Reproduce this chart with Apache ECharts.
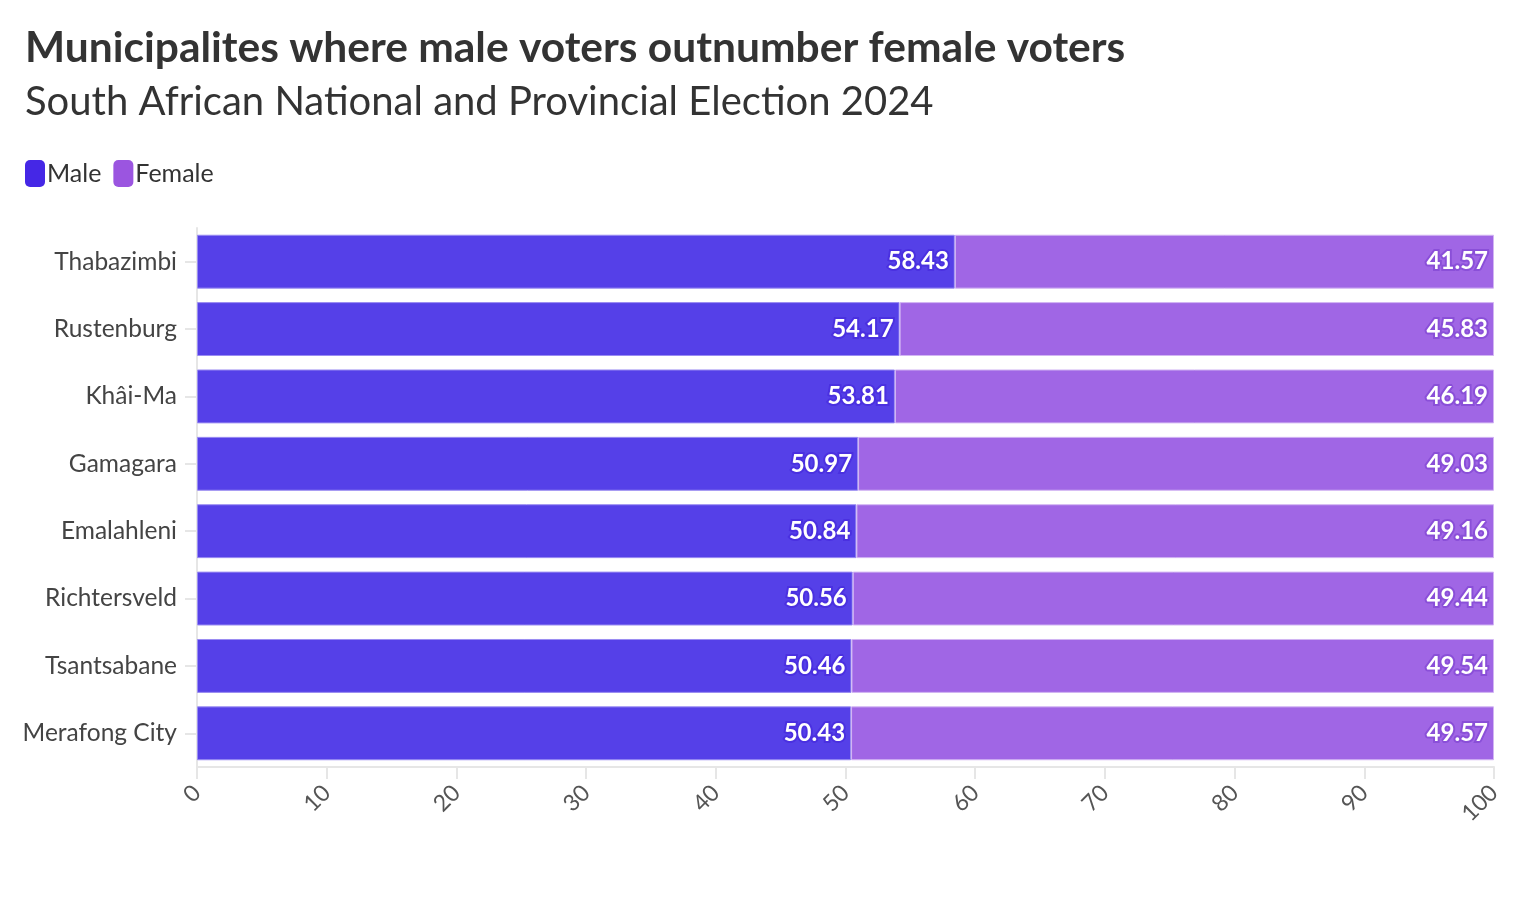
<!DOCTYPE html>
<html><head><meta charset="utf-8">
<script src="https://cdn.jsdelivr.net/npm/echarts@6/dist/echarts.min.js"></script>
<style>html,body{margin:0;padding:0;background:#fff}#c{width:1536px;height:924px}</style>
</head><body><div id="c"></div>
<script>
const categories = ['Thabazimbi','Rustenburg','Khâi-Ma','Gamagara','Emalahleni','Richtersveld','Tsantsabane','Merafong City'];
const maleValues = [58.43,54.17,53.81,50.97,50.84,50.56,50.46,50.43];
const femaleValues = [41.57,45.83,46.19,49.03,49.16,49.44,49.54,49.57];
const xTicks = [0,10,20,30,40,50,60,70,80,90,100];

const FONT = 'Lato, "Open Sans", sans-serif';
const chart = echarts.init(document.getElementById('c'));
function lbl(color){
  return {show:true, position:'insideRight', distance:6, color:'#fff', fontFamily:FONT, fontWeight:'bold', fontSize:24,
    textBorderColor:color, textBorderWidth:4, formatter:p=>p.value.toFixed(2)};
}
chart.setOption({
  animation:false,
  title:[
    {text:'Municipalites where male voters outnumber female voters', left:20, top:22, textStyle:{fontFamily:FONT, fontWeight:'bold', fontSize:42.5, color:'#333'}},
    {text:'South African National and Provincial Election 2024', left:20, top:77, textStyle:{fontFamily:FONT, fontWeight:'normal', fontSize:40, color:'#333'}}
  ],
  legend:{left:20, top:155, itemWidth:20, itemHeight:27, itemGap:12, icon:'roundRect',
    itemStyle:{borderWidth:0},
    textStyle:{fontFamily:FONT, fontSize:25, color:'#333', padding:[0,0,0,-3]},
    data:[{name:'Male',itemStyle:{color:'#4527E6', borderWidth:0}},{name:'Female',itemStyle:{color:'#9B55E0', borderWidth:0}}]},
  grid:{left:197, right:42, top:228, bottom:157, containLabel:false},
  xAxis:{type:'value', min:0, max:100, interval:10,
    axisLine:{show:true, lineStyle:{color:'#e6e6e6', width:2}},
    axisTick:{show:true, length:12, lineStyle:{color:'#e6e6e6', width:2}},
    splitLine:{show:false},
    axisLabel:{rotate:45, color:'#555', fontFamily:FONT, fontSize:23, margin:22,
      formatter:v=>xTicks.includes(v)?String(v):''}},
  yAxis:{type:'category', data:categories, inverse:true,
    axisLine:{show:true, lineStyle:{color:'#e6e6e6', width:2}},
    axisTick:{show:true, alignWithLabel:true, length:12, lineStyle:{color:'#e6e6e6', width:2}},
    axisLabel:{color:'#444', fontFamily:FONT, fontSize:24.5, margin:20}},
  series:[
    {name:'Male', type:'bar', stack:'t', data:maleValues, barCategoryGap:'20%',
      itemStyle:{color:'#5540E8', borderColor:'#9a8cf2', borderWidth:1},
      label:lbl('#4a30e0')},
    {name:'Female', type:'bar', stack:'t', data:femaleValues,
      itemStyle:{color:'#A066E5', borderColor:'#d2b5f3', borderWidth:1},
      label:lbl('#8a4fd8')}
  ]
});
</script></body></html>
